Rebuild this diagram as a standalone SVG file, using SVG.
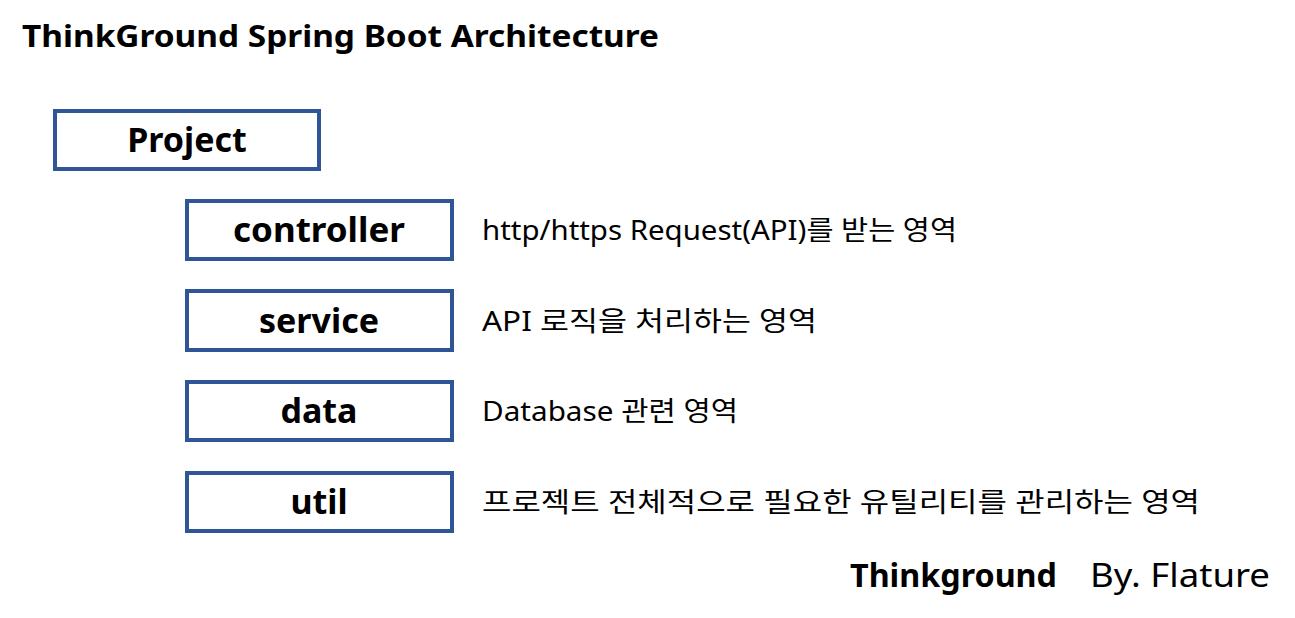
<svg xmlns="http://www.w3.org/2000/svg" width="1295" height="618" viewBox="0 0 1295 618">
<style>
.box{fill:#fff;stroke:#2F5597;stroke-width:4}
.bl{font-family:"Noto Sans","Noto Sans CJK KR",sans-serif;font-weight:bold;font-size:34px;fill:#000;text-anchor:middle}
.d{font-family:"Noto Sans","Noto Sans CJK KR",sans-serif;font-size:27px;fill:#000}
</style>
<rect width="1295" height="618" fill="#fff"/>
<text x="22" y="47" font-family="Noto Sans,Noto Sans CJK KR,sans-serif" font-weight="bold" font-size="31" fill="#000" textLength="637" lengthAdjust="spacingAndGlyphs">ThinkGround Spring Boot Architecture</text>
<g id="project"><rect class="box" x="55" y="111" width="264" height="58"/><text class="bl" x="187" y="152">Project</text></g>
<g id="controller"><rect class="box" x="187" y="201" width="265" height="58"/><text class="bl" x="319" y="242" textLength="172" lengthAdjust="spacingAndGlyphs">controller</text></g>
<g id="service"><rect class="box" x="187" y="291" width="265" height="59"/><text class="bl" x="319" y="333">service</text></g>
<g id="data"><rect class="box" x="187" y="382" width="265" height="58"/><text class="bl" x="319" y="423">data</text></g>
<g id="util"><rect class="box" x="187" y="473" width="265" height="58"/><text class="bl" x="319" y="514">util</text></g>
<g id="connectors"></g>
<text class="d" x="482" y="240" textLength="475" lengthAdjust="spacingAndGlyphs">http/https Request(API)를 받는 영역</text>
<text class="d" x="482" y="331" textLength="335" lengthAdjust="spacingAndGlyphs">API 로직을 처리하는 영역</text>
<text class="d" x="482" y="421" textLength="256" lengthAdjust="spacingAndGlyphs">Database 관련 영역</text>
<text class="d" x="482" y="512" textLength="718" lengthAdjust="spacingAndGlyphs">프로젝트 전체적으로 필요한 유틸리티를 관리하는 영역</text>
<text x="850" y="587" font-family="Noto Sans,sans-serif" font-weight="bold" font-size="32" fill="#000" textLength="207" lengthAdjust="spacingAndGlyphs">Thinkground</text>
<text x="1090" y="587" font-family="Noto Sans,sans-serif" font-size="32" fill="#000" textLength="180" lengthAdjust="spacingAndGlyphs">By. Flature</text>
</svg>
